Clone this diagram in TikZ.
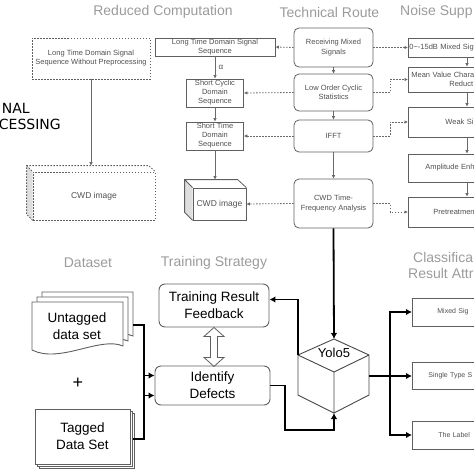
\documentclass[tikz,border=0pt]{standalone}
\usepackage{fontspec}
\setmainfont{Liberation Sans}
\newfontfamily\comicfont{DejaVu Sans}
\usetikzlibrary{arrows.meta,calc,backgrounds}
\definecolor{titlegray}{RGB}{155,155,155}
\definecolor{boxgray}{RGB}{95,95,95}
\definecolor{txtgray}{RGB}{80,80,80}
\definecolor{sidegray}{RGB}{222,222,222}
\definecolor{softline}{RGB}{105,105,105}
\definecolor{cubegray}{RGB}{70,70,70}
\tikzset{
  title/.style={text=titlegray, font=\fontsize{14}{16}\selectfont, inner sep=0pt},
  flowbox/.style={draw=boxgray, line width=0.8pt, text=txtgray, font=\fontsize{7.5}{9}\selectfont, align=center, inner sep=0pt},
  routebox/.style={flowbox, rounded corners=5pt, minimum width=79pt, font=\fontsize{7.5}{9.5}\selectfont},
  sidebox/.style={flowbox, anchor=west, align=left, text width=110pt},
  clsbox/.style={sidebox, font=\fontsize{7}{8}\selectfont},
  rawbox/.style={flowbox, dash pattern=on 1.5pt off 1.5pt},
  bigbox/.style={draw=boxgray, line width=0.9pt, rounded corners=6pt, font=\fontsize{13.5}{17}\selectfont, align=center, inner sep=0pt},
  page/.style={fill=white, draw=boxgray, line width=0.9pt},
  thinarrow/.style={draw=softline, line width=0.8pt, -{Latex[length=3.5pt,width=3.5pt]}},
  dotarrow/.style={thinarrow, dash pattern=on 1.5pt off 1.5pt},
  heavyarrow/.style={line width=1.8pt, -{Latex[length=6pt,width=6.5pt]}},
}
\begin{document}
\begin{tikzpicture}[x=1pt,y=-1pt]
\useasboundingbox (0,0) rectangle (474,474);
\clip (0,0) rectangle (474,474);

% column titles
\node[title] (t-red) at (163,12) {Reduced Computation};
\node[title] (t-route) at (329.5,12) {Technical Route};
\node[title, anchor=west] (t-noise) at (400,12) {Noise Supp};
\node[title] (t-data) at (88,263) {Dataset};
\node[title] (t-train) at (214,263) {Training Strategy};
\node[title, anchor=west] (t-cls1) at (413,257) {Classifica};
\node[title, anchor=west] (t-cls2) at (408,273) {Result Attr};
\node[anchor=east, inner sep=0pt, font=\comicfont\fontsize{14}{16}\selectfont] (sig1) at (30,108) {NAL};
\node[anchor=east, inner sep=0pt, font=\comicfont\fontsize{14}{16}\selectfont] (sig2) at (61,124) {CESSING};

% without preprocessing
\node[rawbox, minimum width=118pt, minimum height=41pt] (raw) at (91,58.5) {Long Time Domain Signal\\Sequence Without Preprocessing};
\node[rawbox, minimum width=122pt, minimum height=48pt, font=\fontsize{8.5}{10}\selectfont] (cwdraw) at (94,196) {CWD image};
\coordinate (rawback) at ($(cwdraw.north west)+(-6,-6)$);
\begin{scope}[on background layer]
  \fill[sidegray] (cwdraw.north west) -- (rawback) -- ++(0,48) -- (cwdraw.south west) -- cycle;
\end{scope}
\draw[draw=boxgray, line width=0.8pt, dash pattern=on 1.5pt off 1.5pt] (cwdraw.south west) -- ++(-6,-6) -- (rawback) -- ++(122,0) -- (cwdraw.north east) (rawback) -- (cwdraw.north west);
\draw[thinarrow] (raw.south) -- (raw.south |- rawback);

% reduced computation
\node[flowbox, minimum width=120pt, minimum height=18pt] (lts) at (215,47) {Long Time Domain Signal\\Sequence};
\node[flowbox, minimum width=57pt, minimum height=28pt] (scs) at (215,93) {Short Cyclic\\Domain\\Sequence};
\node[flowbox, minimum width=57pt, minimum height=28pt] (sts) at (215,136) {Short Time\\Domain\\Sequence};
\node[flowbox, minimum width=53pt, minimum height=32pt, font=\fontsize{8.5}{10}\selectfont] (cwd) at (219.5,204) {CWD image};
\coordinate (cwdback) at ($(cwd.north west)+(-8,-8)$);
\begin{scope}[on background layer]
  \fill[sidegray] (cwd.north west) -- (cwdback) -- ++(0,32) -- (cwd.south west) -- cycle;
\end{scope}
\draw[draw=boxgray, line width=0.8pt] (cwd.south west) -- ++(-8,-8) -- (cwdback) -- ++(53,0) -- (cwd.north east) (cwdback) -- (cwd.north west);
\draw[thinarrow] (lts.south) -- node[right, font=\fontsize{8}{9}\selectfont, text=txtgray] (alpha) {α} (scs.north);
\draw[thinarrow] (scs) -- (sts);
\draw[thinarrow] (sts.south) -- (sts.south |- cwdback);

% technical route
\node[routebox, minimum height=39pt] (recv) at (333.5,47.5) {Receiving Mixed\\Signals};
\node[routebox, minimum height=37pt] (low) at (333.5,92.5) {Low Order Cyclic\\Statistics};
\node[routebox, minimum height=32pt] (ifft) at (333.5,136) {IFFT};
\node[routebox, minimum height=49pt] (tf) at (333.5,203.5) {CWD Time-\\Frequency Analysis};
\draw[thinarrow] (recv) -- (low);
\draw[thinarrow] (low) -- (ifft);
\draw[thinarrow] (ifft) -- (tf);
\draw[dotarrow] (recv.west) -- (lts.east);
\draw[dotarrow] (low.west) -- (scs.east);
\draw[dotarrow] (ifft.west) -- (sts.east);
\draw[dotarrow] (tf.west) -- (cwd.east);

% noise suppression
\node[sidebox, inner xsep=1pt, minimum height=19pt] (n1) at (408,47.5) {0\textasciitilde{}-15dB Mixed Sig};
\node[sidebox, inner xsep=3pt, minimum height=25pt] (n2) at (408,79.5) {Mean Value Chara\\\hspace*{38pt}Reduct};
\node[sidebox, inner xsep=37pt, minimum height=30pt] (n3) at (408,122) {Weak Si};
\node[sidebox, inner xsep=17pt, minimum height=28pt] (n4) at (408,168) {Amplitude Enh};
\node[sidebox, inner xsep=25pt, minimum height=30pt] (n5) at (408,212) {Pretreatmen};
\coordinate (ncol) at (467,0);
\coordinate (bend) at (390,0);
\foreach \a/\b in {n1/n2,n2/n3,n3/n4,n4/n5}
  \draw[thinarrow] (\a.south -| ncol) -- (\b.north -| ncol);
\draw[dotarrow] (recv.east) -- (n1.west);
\draw[dotarrow] (low.east) -- (low.east -| bend) |- (n2.west);
\draw[dotarrow] (ifft.east) -- (ifft.east -| bend) |- (n3.west);
\draw[dotarrow] (tf.east) -- (tf.east -| bend) |- (n5.west);

% dataset
\foreach \s in {10,5,0}
  \filldraw[page] (32+\s,302-\s) -- ++(91,0) -- ++(0,44) .. controls +(-23,-10) and +(28,14) .. ++(-91,4) -- cycle;
\node[font=\fontsize{13.5}{17}\selectfont, align=center, inner sep=0pt] (untag) at (77,326) {Untagged\\data set};
\node[font=\fontsize{18}{18}\selectfont, inner sep=0pt] (plus) at (78,383) {+};
\foreach \s in {4,2}
  \draw[page] (35+\s,409+\s) rectangle ++(95,55);
\node[bigbox, rounded corners=0pt, fill=white, minimum width=95pt, minimum height=55pt] (tag) at (82.5,436.5) {Tagged\\Data Set};
\coordinate (untag-out) at (133,325);
\coordinate (tag-out) at (133,439);
\coordinate (join) at (144,385);

% training strategy
\node[bigbox, minimum width=110pt, minimum height=43pt] (fb) at (214,305.5) {Training Result\\Feedback};
\node[bigbox, minimum width=115pt, minimum height=39pt] (id) at (212.5,385.5) {Identify\\Defects};
\draw[page, line width=0.8pt] (fb.south) -- ++(10,9) -- ++(-6.5,0) -- ++(0,21) -- ++(6.5,0) -- ++(-10,9) -- ++(-10,-9) -- ++(6.5,0) -- ++(0,-21) -- ++(-6.5,0) -- cycle;
\draw[heavyarrow] (untag-out) -| (join) |- ([yshift=10pt]id.west);
\draw[heavyarrow] (tag-out) -| (join) |- ([yshift=-10pt]id.west);

% yolo5 cube
\coordinate (ytop) at (334,339);
\coordinate (yl) at (298,355);
\coordinate (yr) at (369,355);
\coordinate (yc) at (334,372);
\coordinate (ybl) at (298,395);
\coordinate (yb) at (334,413);
\coordinate (ybr) at (369,395);
\draw[draw=cubegray, line width=0.9pt] (ytop) -- (yr) -- (ybr) -- (yb) -- (ybl) -- (yl) -- cycle (yl) -- (yc) -- (yr) (yc) -- (yb);
\node[font=\fontsize{13}{13}\selectfont, inner sep=0pt] (yolo) at (334,353) {Yolo5};
\coordinate (ymid) at (369,376);
\coordinate (split) at (390,376);
\coordinate (loop) at (285,430);
\draw[heavyarrow] (tf.south) -- (ytop);
\draw[heavyarrow] (yl) |- ([yshift=6pt]fb.east);
\draw[heavyarrow] (id.east) -| (loop) -| (yb);

% classification
\node[clsbox, inner xsep=25pt, minimum height=28pt] (c1) at (412,312) {Mixed Sig};
\node[clsbox, inner xsep=16pt, minimum height=27pt] (c2) at (412,376) {Single Type S};
\node[clsbox, inner xsep=26pt, minimum height=28pt] (c3) at (412,435) {The Label};
\draw[heavyarrow] (ymid) -- (c2.west);
\draw[heavyarrow] (split) |- (c1.west);
\draw[heavyarrow] (split) |- (c3.west);
\end{tikzpicture}
\end{document}
